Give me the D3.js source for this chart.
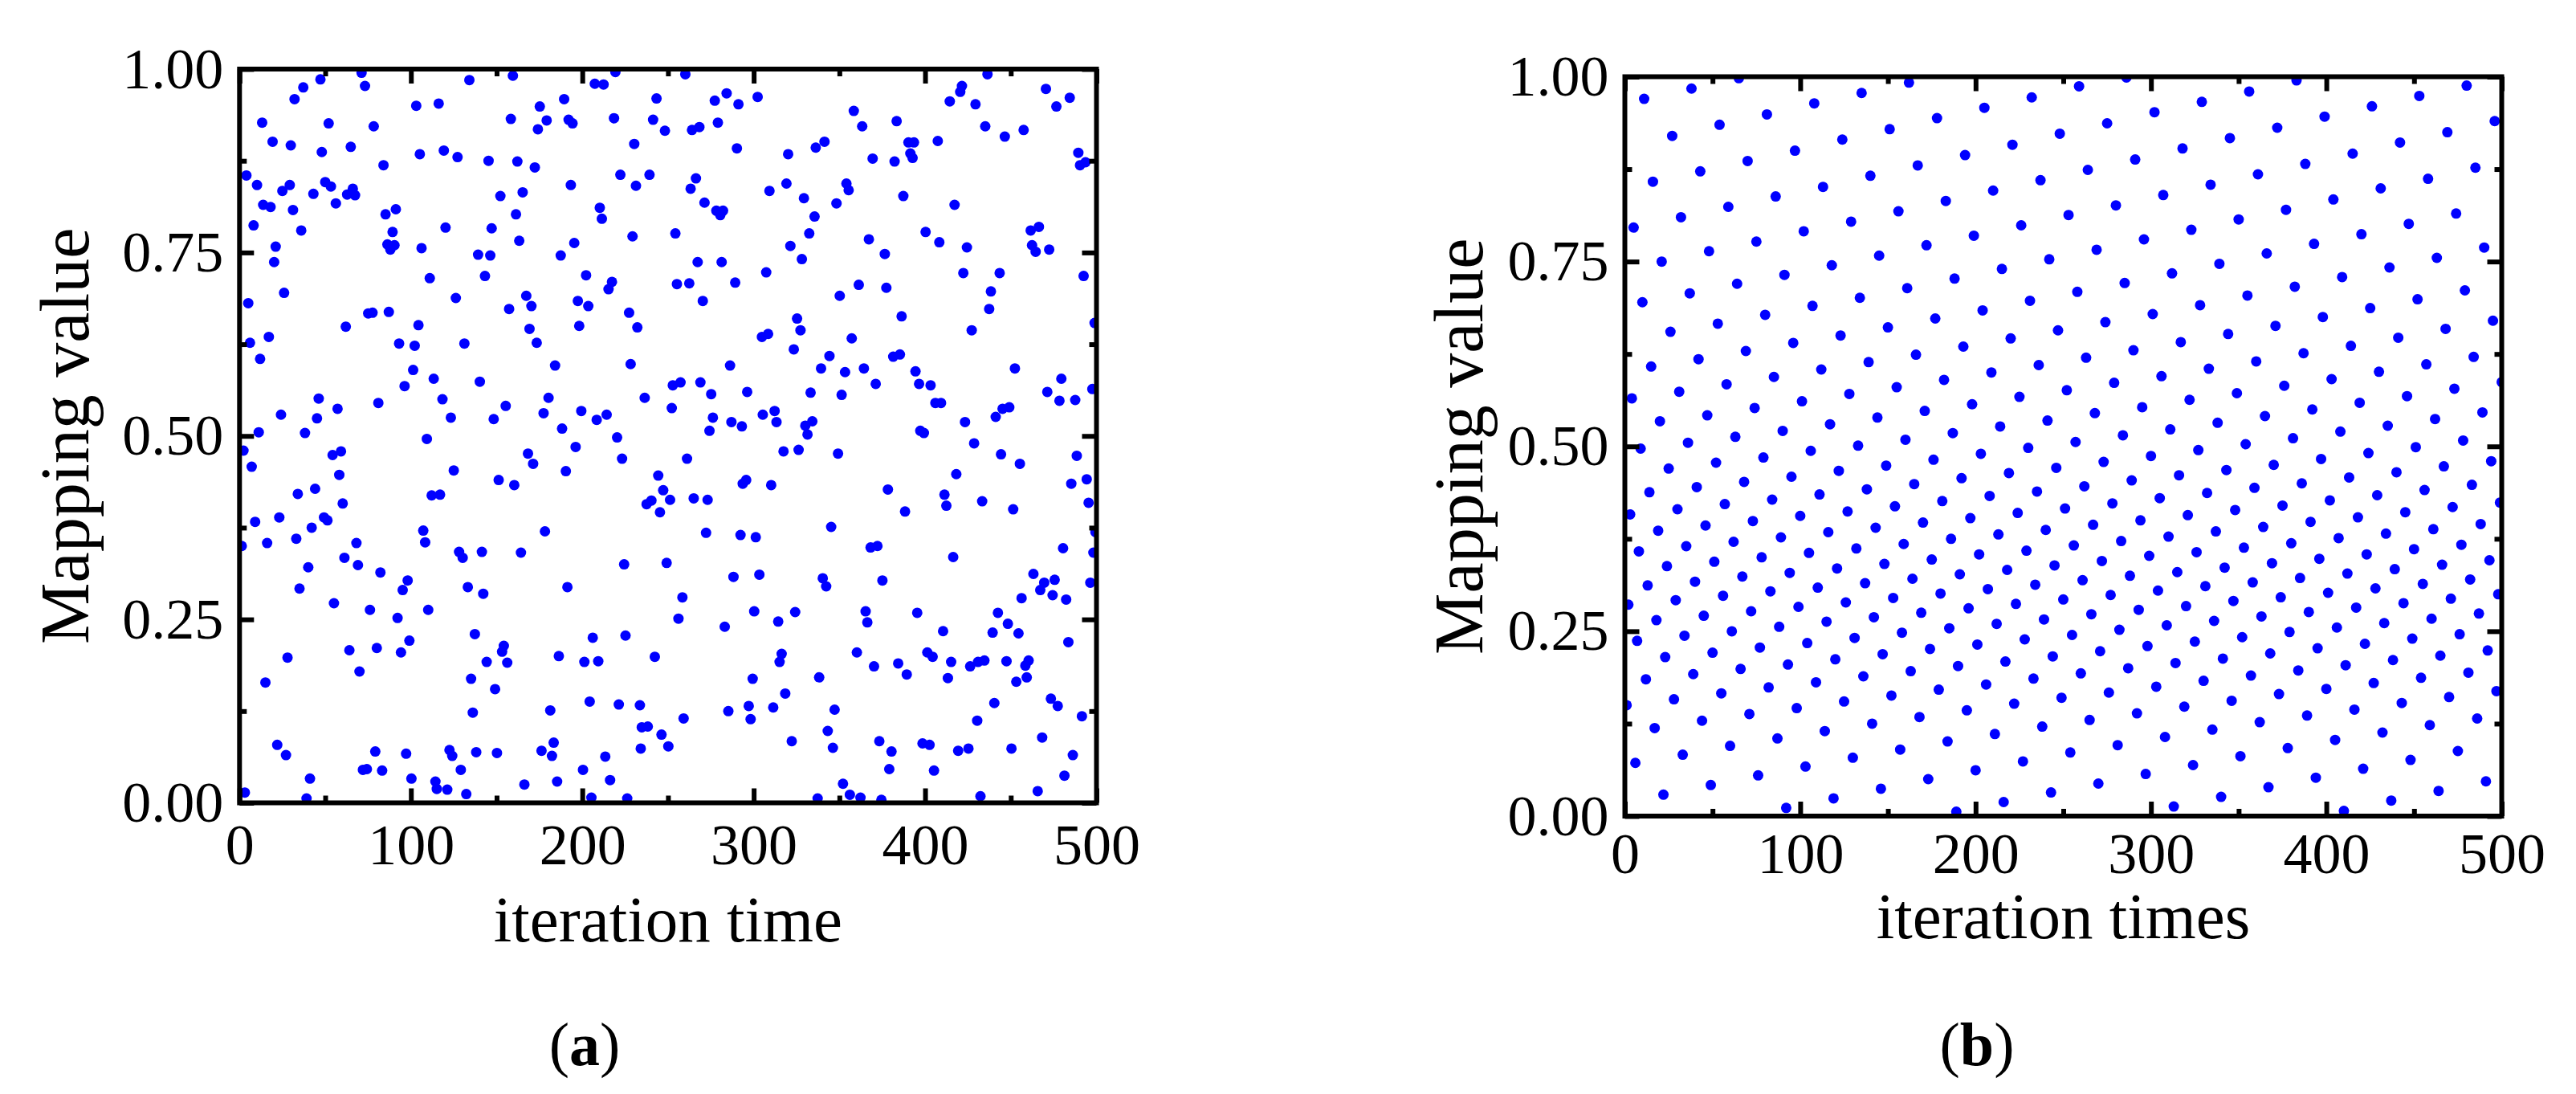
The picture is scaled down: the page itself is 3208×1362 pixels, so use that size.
<!DOCTYPE html>
<html><head><meta charset="utf-8">
<script src="https://cdn.jsdelivr.net/npm/d3@7"></script>
<style>html,body{margin:0;padding:0;background:#fff;} svg{display:block}</style>
</head><body>
<svg id="chart" width="3208" height="1362"></svg>
<script>
// ---------- data ----------
const xMajorTicks = [0, 100, 200, 300, 400, 500];
const xMinorTicks = [50, 150, 250, 350, 450];
const xTickLabels = ["0", "100", "200", "300", "400", "500"];
const yMajorTicks = [0, 0.25, 0.5, 0.75, 1];
const yMinorTicks = [0.125, 0.375, 0.625, 0.875];
const yTickLabels = ["0.00", "0.25", "0.50", "0.75", "1.00"];
const yTitle = "Mapping value";
const xTitleA = "iteration time";
const xTitleB = "iteration times";

// panel (a): [iteration, mapping value]
const pointsA = [
[71.2,0.995],[47.2,0.986],[37.2,0.975],[73.2,0.977],[32.1,0.959],[134.1,0.985],[159.5,0.991],[219.3,0.996],[207.3,0.980],[212.4,0.979],[243.3,0.960],[189.4,0.959],[175.2,0.949],[103.1,0.950],[116.2,0.953],[13.2,0.927],[52.0,0.926],[78.3,0.922],[158.3,0.932],[179.2,0.930],[192.0,0.931],[194.3,0.926],[174.1,0.918],[218.5,0.933],[241.3,0.931],[19.3,0.901],[29.9,0.896],[48.0,0.887],[64.9,0.894],[105.2,0.884],[119.2,0.889],[127.2,0.880],[145.3,0.875],[162.1,0.874],[172.3,0.866],[230.3,0.898],[84.0,0.869],[4.0,0.855],[10.2,0.842],[25.0,0.834],[29.3,0.842],[43.1,0.830],[50.0,0.846],[53.3,0.840],[62.8,0.829],[66.1,0.837],[67.4,0.828],[56.2,0.817],[13.8,0.815],[18.1,0.812],[31.2,0.808],[85.2,0.802],[91.2,0.809],[152.2,0.827],[165.2,0.832],[161.3,0.802],[193.3,0.842],[222.2,0.856],[231.3,0.841],[239.2,0.856],[210.2,0.811],[211.4,0.796],[8.2,0.787],[36.0,0.780],[89.3,0.778],[120.2,0.784],[147.1,0.783],[163.2,0.766],[195.3,0.763],[229.3,0.772],[21.1,0.758],[86.3,0.761],[90.4,0.760],[88.0,0.754],[106.2,0.756],[20.2,0.737],[139.2,0.747],[146.3,0.746],[187.4,0.746],[111.0,0.715],[143.2,0.718],[202.2,0.719],[217.3,0.710],[215.3,0.700],[26.0,0.695],[5.1,0.681],[126.2,0.688],[167.3,0.691],[170.3,0.677],[197.4,0.684],[203.5,0.677],[157.3,0.673],[227.3,0.668],[75.1,0.667],[77.6,0.668],[87.1,0.669],[62.0,0.649],[104.4,0.651],[169.2,0.646],[198.2,0.650],[232.1,0.648],[17.1,0.635],[6.1,0.627],[93.1,0.626],[102.2,0.623],[131.2,0.626],[173.4,0.627],[12.0,0.605],[101.3,0.590],[184.1,0.596],[228.2,0.598],[113.3,0.578],[96.3,0.568],[140.2,0.574],[46.2,0.551],[81.0,0.545],[118.4,0.550],[180.3,0.552],[155.3,0.541],[236.4,0.552],[24.2,0.529],[45.2,0.524],[57.2,0.537],[123.3,0.525],[148.3,0.523],[177.4,0.531],[199.4,0.534],[208.4,0.522],[214.2,0.529],[11.2,0.505],[38.2,0.504],[109.3,0.496],[188.2,0.510],[220.3,0.498],
[2.3,0.480],[59.2,0.479],[54.3,0.474],[7.1,0.458],[58.2,0.447],[34.0,0.421],[44.1,0.428],[60.2,0.408],[9.1,0.383],[23.2,0.389],[42.1,0.375],[49.3,0.389],[51.3,0.385],[1.3,0.350],[16.1,0.354],[33.1,0.360],[68.2,0.354],[61.2,0.334],[69.1,0.324],[40.1,0.321],[82.2,0.314],[98.1,0.303],[95.2,0.290],[35.0,0.292],[55.1,0.272],[76.1,0.263],[92.2,0.252],[110.1,0.263],[112.1,0.419],[117.0,0.420],[125.0,0.453],[107.2,0.371],[108.3,0.355],[128.1,0.342],[130.2,0.334],[141.4,0.342],[133.2,0.294],[142.2,0.285],[151.2,0.440],[160.3,0.433],[168.3,0.476],[171.3,0.462],[190.4,0.452],[196.1,0.485],[223.2,0.469],[178.2,0.370],[164.2,0.341],[191.3,0.294],[224.4,0.325],[244.3,0.446],[247.2,0.426],[237.5,0.407],[240.3,0.412],[245.3,0.396],[137.3,0.230],[154.2,0.214],[153.2,0.206],[156.2,0.191],[144.2,0.192],[135.1,0.169],[149.1,0.155],[136.1,0.123],[186.3,0.200],[201.2,0.192],[209.3,0.193],[206.1,0.225],[225.2,0.228],[242.3,0.199],[204.3,0.138],[221.3,0.134],[233.6,0.133],[181.3,0.126],[234.7,0.103],[238.2,0.104],[246.2,0.093],[234.1,0.074],[64.1,0.208],[80.1,0.211],[94.2,0.205],[99.1,0.221],[70.0,0.179],[28.0,0.198],[15.1,0.164],[22.0,0.079],[27.1,0.065],[41.1,0.033],[79.2,0.070],[72.0,0.045],[74.3,0.046],[83.2,0.044],[97.2,0.067],[100.3,0.033],[114.3,0.029],[115.1,0.019],[121.2,0.018],[122.5,0.072],[124.1,0.064],[129.1,0.045],[132.3,0.012],[138.1,0.069],[150.2,0.068],[166.2,0.025],[176.2,0.071],[183.3,0.082],[182.3,0.064],[185.3,0.029],[200.4,0.045],[213.4,0.063],[216.2,0.031],[205.3,0.007],[226.2,0.006],[3.1,0.014],[39.1,0.006],
[260.1,0.993],[277.3,0.957],[284.2,0.967],[291.1,0.952],[302.3,0.962],[248.2,0.916],[264.0,0.917],[268.3,0.921],[279.1,0.927],[290.2,0.892],[320.1,0.884],[336.2,0.893],[341.3,0.901],[358.4,0.943],[363.3,0.922],[383.4,0.929],[369.4,0.878],[382.2,0.874],[390.3,0.900],[393.5,0.900],[391.4,0.885],[392.7,0.879],[407.4,0.902],[421.5,0.977],[420.5,0.969],[414.4,0.956],[429.4,0.952],[436.4,0.993],[435.1,0.922],[446.5,0.908],[457.5,0.917],[470.5,0.973],[476.6,0.949],[484.4,0.961],[489.4,0.886],[490.4,0.869],[493.6,0.873],[266.3,0.851],[263.2,0.837],[271.3,0.818],[278.2,0.807],[282.1,0.807],[280.5,0.801],[309.2,0.834],[319.1,0.844],[329.3,0.824],[335.5,0.799],[348.3,0.817],[354.1,0.844],[355.4,0.835],[387.3,0.827],[417.2,0.815],[254.3,0.776],[332.4,0.776],[321.4,0.759],[328.1,0.741],[367.2,0.768],[376.5,0.748],[400.3,0.778],[408.3,0.764],[424.4,0.757],[461.6,0.780],[466.4,0.785],[462.4,0.760],[464.5,0.751],[472.4,0.754],[267.3,0.737],[281.3,0.737],[307.3,0.723],[255.2,0.707],[262.4,0.708],[289.2,0.709],[270.3,0.684],[350.2,0.691],[361.3,0.706],[377.4,0.702],[422.3,0.722],[443.5,0.722],[438.4,0.697],[437.4,0.673],[492.5,0.718],[325.3,0.660],[327.3,0.644],[304.8,0.635],[308.4,0.639],[357.2,0.633],[386.3,0.663],[427.2,0.644],[498.9,0.654],[323.4,0.618],[344.2,0.609],[339.3,0.592],[353.3,0.587],[364.3,0.592],[381.4,0.608],[385.3,0.611],[394.4,0.588],[286.2,0.596],[252.8,0.569],[257.3,0.573],[268.9,0.573],[275.2,0.557],[296.2,0.560],[371.2,0.571],[396.5,0.571],[403.2,0.569],[452.4,0.592],[479.5,0.578],[471.3,0.560],[497.6,0.564],[333.2,0.559],[351.3,0.556],[252.2,0.538],[276.2,0.525],[287.0,0.519],[293.1,0.513],[274.2,0.507],[305.3,0.529],[312.2,0.534],[313.3,0.519],[330.1,0.514],[334.2,0.520],[331.4,0.502],[406.0,0.545],[409.3,0.545],[423.3,0.519],[441.2,0.526],[445.2,0.537],[449.1,0.539],[478.4,0.548],[487.6,0.549],[397.2,0.507],[399.3,0.504],
[428.6,0.490],[317.4,0.479],[326.2,0.481],[349.2,0.476],[261.1,0.469],[444.3,0.475],[455.3,0.462],[488.5,0.473],[494.3,0.441],[485.3,0.435],[418.2,0.448],[378.3,0.427],[411.3,0.420],[412.4,0.405],[433.3,0.411],[451.4,0.400],[495.4,0.409],[388.3,0.397],[295.6,0.440],[293.6,0.435],[310.2,0.433],[251.2,0.413],[265.0,0.415],[273.1,0.413],[272.2,0.368],[292.3,0.365],[301.2,0.362],[345.2,0.376],[368.2,0.348],[372.2,0.350],[416.4,0.335],[480.5,0.347],[499.4,0.369],[498.2,0.341],[249.2,0.327],[288.2,0.308],[303.3,0.311],[340.3,0.306],[342.3,0.295],[375.1,0.303],[463.2,0.312],[469.5,0.300],[467.2,0.290],[475.6,0.304],[474.4,0.283],[482.3,0.277],[456.3,0.279],[496.4,0.300],[258.4,0.280],[256.1,0.251],[283.1,0.240],[300.3,0.261],[314.3,0.247],[324.2,0.260],[365.3,0.261],[366.3,0.246],[395.4,0.259],[442.5,0.259],[448.3,0.244],[439.4,0.232],[454.5,0.231],[410.5,0.234],[483.6,0.219],[316.3,0.203],[315.1,0.192],[360.2,0.205],[370.2,0.186],[384.3,0.190],[389.3,0.175],[401.3,0.205],[404.4,0.199],[415.2,0.192],[413.3,0.170],[426.3,0.186],[430.9,0.192],[434.6,0.194],[447.5,0.193],[458.5,0.187],[460.4,0.194],[459.3,0.171],[453.2,0.165],[299.4,0.169],[338.2,0.171],[318.4,0.149],[473.4,0.142],[477.4,0.132],[440.4,0.136],[430.4,0.112],[491.5,0.118],[285.2,0.125],[297.1,0.132],[298.2,0.114],[311.4,0.130],[347.2,0.127],[259.1,0.115],[250.2,0.077],[343.2,0.098],[322.2,0.084],[346.2,0.075],[373.3,0.084],[380.4,0.070],[398.5,0.081],[402.6,0.079],[419.3,0.071],[425.3,0.074],[450.4,0.074],[468.3,0.089],[486.2,0.065],[481.3,0.037],[379.1,0.046],[405.2,0.044],[352.1,0.026],[356.1,0.011],[362.3,0.007],[337.3,0.006],[374.5,0.004],[432.3,0.009],[465.7,0.016]
];

// panel (b): [iteration, mapping value]
const pointsB = [
[65,0.998],[162,0.992],[38,0.984],[135,0.978],[232,0.972],[11,0.970],[108,0.964],[205,0.958],[81,0.949],[178,0.944],[54,0.935],[151,0.929],[248,0.923],[27,0.920],[124,0.915],[221,0.908],[97,0.900],[194,0.894],[70,0.886],[167,0.880],[43,0.872],[140,0.866],[237,0.860],[16,0.858],[113,0.851],[210,0.846],[86,0.838],[183,0.832],[59,0.824],[156,0.818],[32,0.810],[129,0.804],[226,0.799],[5,0.796],[102,0.791],[199,0.785],[75,0.777],[172,0.772],[48,0.764],[145,0.758],[242,0.753],[21,0.750],[118,0.745],[215,0.740],[91,0.732],[188,0.727],[64,0.720],[161,0.714],[37,0.707],[134,0.701],[231,0.697],[10,0.695],[107,0.690],[204,0.684],[80,0.678],[177,0.673],[53,0.666],[150,0.661],[247,0.657],[26,0.655],[123,0.650],[220,0.646],[96,0.640],[193,0.635],[69,0.629],[166,0.624],[42,0.618],[139,0.614],[236,0.610],[15,0.608],[112,0.604],[209,0.600],[85,0.594],[182,0.590],[58,0.584],[155,0.580],[31,0.574],[128,0.571],[225,0.567],[4,0.565],[101,0.561],[198,0.557],[74,0.552],[171,0.548],[47,0.542],[144,0.539],[241,0.535],[20,0.534],[117,0.530],[214,0.527],[90,0.521],[187,0.518],[63,0.513],[160,0.509],[36,0.505],[133,0.501],
[286,0.999],[383,0.995],[480,0.988],[259,0.987],[356,0.980],[453,0.974],[329,0.966],[426,0.960],[302,0.952],[399,0.946],[496,0.940],[275,0.937],[372,0.931],[469,0.925],[345,0.917],[442,0.911],[318,0.903],[415,0.896],[291,0.888],[388,0.882],[485,0.877],[264,0.874],[361,0.868],[458,0.862],[334,0.854],[431,0.849],[307,0.840],[404,0.834],[280,0.826],[377,0.820],[474,0.815],[253,0.813],[350,0.807],[447,0.801],[323,0.793],[420,0.787],[296,0.780],[393,0.774],[490,0.769],[269,0.766],[366,0.761],[463,0.755],[339,0.747],[436,0.742],[312,0.734],[409,0.729],[285,0.721],[382,0.716],[479,0.711],[258,0.709],[355,0.704],[452,0.699],[328,0.691],[425,0.687],[301,0.679],[398,0.675],[495,0.670],[274,0.668],[371,0.663],[468,0.659],[344,0.652],[441,0.647],[317,0.641],[414,0.636],[290,0.630],[387,0.626],[484,0.621],[263,0.620],[360,0.615],[457,0.611],[333,0.605],[430,0.601],[306,0.595],[403,0.591],[500,0.587],[279,0.586],[376,0.582],[473,0.578],[252,0.576],[349,0.572],[446,0.568],[322,0.563],[419,0.559],[295,0.553],[392,0.550],[489,0.546],[268,0.545],[365,0.541],[462,0.537],[338,0.532],[435,0.528],[311,0.523],[408,0.520],[284,0.515],[381,0.511],[478,0.508],[257,0.506],[354,0.503],
[9,0.497],[230,0.498],[106,0.494],[203,0.490],[79,0.485],[176,0.482],[52,0.478],[149,0.474],[246,0.471],[25,0.470],[122,0.467],[219,0.464],[95,0.459],[192,0.457],[68,0.452],[165,0.449],[41,0.445],[138,0.442],[235,0.439],[14,0.438],[111,0.435],[208,0.433],[84,0.428],[181,0.426],[57,0.422],[154,0.419],[30,0.415],[127,0.412],[224,0.410],[3,0.408],[100,0.406],[197,0.403],[73,0.399],[170,0.397],[46,0.393],[143,0.390],[240,0.387],[19,0.386],[116,0.384],[213,0.381],[89,0.377],[186,0.375],[62,0.371],[159,0.368],[35,0.365],[132,0.362],[229,0.359],[8,0.358],[105,0.356],[202,0.354],[78,0.350],[175,0.347],[51,0.344],[148,0.341],[245,0.339],[24,0.338],[121,0.335],[218,0.333],[94,0.329],[191,0.327],[67,0.324],[164,0.321],[40,0.317],[137,0.315],[234,0.313],[13,0.312],[110,0.309],[207,0.307],[83,0.304],[180,0.301],[56,0.298],[153,0.295],[29,0.292],[126,0.289],[223,0.287],[2,0.286],[99,0.283],[196,0.281],[72,0.277],[169,0.275],[45,0.271],[142,0.269],[239,0.266],[18,0.265],[115,0.263],[212,0.260],[88,0.256],[185,0.254],[61,0.250],[158,0.248],[34,0.244],[131,0.241],[228,0.239],[7,0.237],[104,0.234],[201,0.232],[77,0.228],[174,0.226],[50,0.221],[147,0.219],[244,0.216],[23,0.215],[120,0.212],[217,0.209],[93,0.205],[190,0.203],[66,0.199],[163,0.196],[39,0.192],[136,0.189],[233,0.186],[12,0.185],[109,0.181],[206,0.178],[82,0.174],[179,0.171],[55,0.166],[152,0.163],[28,0.158],[125,0.155],[222,0.152],[1,0.150],[98,0.146],[195,0.143],[71,0.138],[168,0.134],[44,0.129],[141,0.125],[238,0.121],[17,0.119],[114,0.115],[211,0.111],[87,0.105],[184,0.101],[60,0.095],[157,0.090],[33,0.083],[130,0.079],[227,0.074],[6,0.072],[103,0.067],[200,0.062],[76,0.055],[173,0.050],[49,0.042],[146,0.037],[243,0.032],[22,0.029],[119,0.024],[216,0.019],[92,0.011],[189,0.006],
[451,0.499],[327,0.495],[424,0.491],[300,0.487],[397,0.483],[494,0.480],[273,0.479],[370,0.475],[467,0.473],[343,0.468],[440,0.465],[316,0.461],[413,0.458],[289,0.454],[386,0.450],[483,0.448],[262,0.446],[359,0.444],[456,0.441],[332,0.437],[429,0.434],[305,0.430],[402,0.427],[499,0.424],[278,0.423],[375,0.420],[472,0.418],[251,0.416],[348,0.414],[445,0.411],[321,0.407],[418,0.404],[294,0.400],[391,0.398],[488,0.395],[267,0.394],[364,0.391],[461,0.388],[337,0.385],[434,0.382],[310,0.378],[407,0.376],[283,0.372],[380,0.369],[477,0.367],[256,0.366],[353,0.363],[450,0.361],[326,0.357],[423,0.354],[299,0.352],[396,0.348],[493,0.346],[272,0.345],[369,0.342],[466,0.340],[342,0.336],[439,0.334],[315,0.330],[412,0.328],[288,0.325],[385,0.322],[482,0.320],[261,0.319],[358,0.316],[455,0.314],[331,0.311],[428,0.308],[304,0.305],[401,0.302],[498,0.300],[277,0.299],[374,0.296],[471,0.294],[250,0.293],[347,0.291],[444,0.288],[320,0.284],[417,0.282],[293,0.279],[390,0.276],[487,0.274],[266,0.273],[363,0.270],[460,0.267],[336,0.264],[433,0.261],[309,0.258],[406,0.255],[282,0.252],[379,0.249],[476,0.246],[255,0.245],[352,0.242],[449,0.240],[325,0.236],[422,0.233],[298,0.230],[395,0.227],[492,0.224],[271,0.223],[368,0.220],[465,0.217],[341,0.213],[438,0.211],[314,0.207],[411,0.204],[287,0.200],[384,0.197],[481,0.194],[260,0.193],[357,0.190],[454,0.187],[330,0.183],[427,0.180],[303,0.175],[400,0.172],[497,0.169],[276,0.167],[373,0.165],[470,0.161],[249,0.160],[346,0.156],[443,0.153],[319,0.148],[416,0.144],[292,0.139],[389,0.136],[486,0.132],[265,0.130],[362,0.127],[459,0.123],[335,0.117],[432,0.113],[308,0.107],[405,0.103],[281,0.096],[378,0.092],[475,0.088],[254,0.086],[351,0.081],[448,0.076],[324,0.069],[421,0.064],[297,0.057],[394,0.052],[491,0.047],[270,0.044],[367,0.039],[464,0.034],[340,0.026],[437,0.021],[313,0.013],[410,0.007]
];

// ---------- drawing ----------
const FONT = "'Liberation Serif','Times New Roman',serif";
const svg = d3.select('#chart');
svg.append('rect').attr('width', 3208).attr('height', 1362).attr('fill', '#fff');

function panel(id, pts, box, xTitle, tag) {
  const x = d3.scaleLinear().domain([0, 500]).range([box.x0, box.x1]);
  const y = d3.scaleLinear().domain([0, 1]).range([box.y0, box.y1]);
  const g = svg.append('g');

  g.append('clipPath').attr('id', 'clip' + id)
    .append('rect').attr('x', box.x0).attr('y', box.y1)
    .attr('width', box.x1 - box.x0).attr('height', box.y0 - box.y1);

  g.append('g').attr('clip-path', `url(#clip${id})`)
    .selectAll('circle').data(pts).join('circle')
    .attr('cx', d => x(d[0])).attr('cy', d => y(d[1]))
    .attr('r', 6.5).attr('fill', '#0000ff');

  const MAJ = 18, MIN = 9;
  function put(axis, tx, ty) {
    const a = g.append('g').attr('transform', `translate(${tx},${ty})`).call(axis);
    a.select('.domain').remove();
    a.selectAll('.tick line').attr('stroke', '#000').attr('stroke-width', 6);
    a.attr('font-family', FONT).attr('font-size', 72);
    a.selectAll('.tick text').attr('fill', '#000');
    return a;
  }
  // bottom
  put(d3.axisBottom(x).tickValues(xMajorTicks).tickSize(-MAJ).tickPadding(box.xPad)
      .tickFormat((d, i) => xTickLabels[i]), 0, box.y0);
  put(d3.axisBottom(x).tickValues(xMinorTicks).tickSize(-MIN).tickFormat(''), 0, box.y0);
  // top
  put(d3.axisTop(x).tickValues(xMajorTicks).tickSize(-MAJ).tickFormat(''), 0, box.y1);
  put(d3.axisTop(x).tickValues(xMinorTicks).tickSize(-MIN).tickFormat(''), 0, box.y1);
  // left
  put(d3.axisLeft(y).tickValues(yMajorTicks).tickSize(-MAJ).tickPadding(20)
      .tickFormat((d, i) => yTickLabels[i]), box.x0, 0);
  put(d3.axisLeft(y).tickValues(yMinorTicks).tickSize(-MIN).tickFormat(''), box.x0, 0);
  // right
  put(d3.axisRight(y).tickValues(yMajorTicks).tickSize(-MAJ).tickFormat(''), box.x1, 0);
  put(d3.axisRight(y).tickValues(yMinorTicks).tickSize(-MIN).tickFormat(''), box.x1, 0);

  // frame
  g.append('rect').attr('x', box.x0).attr('y', box.y1)
    .attr('width', box.x1 - box.x0).attr('height', box.y0 - box.y1)
    .attr('fill', 'none').attr('stroke', '#000').attr('stroke-width', 6);

  // titles
  g.append('text').attr('x', (box.x0 + box.x1) / 2).attr('y', box.xTitleY)
    .attr('text-anchor', 'middle').attr('font-family', FONT).attr('font-size', 81)
    .attr('fill', '#000').text(xTitle);
  g.append('text')
    .attr('transform', `translate(${box.yTitleX},${(box.y0 + box.y1) / 2}) rotate(-90)`)
    .attr('text-anchor', 'middle').attr('font-family', FONT).attr('font-size', 86)
    .attr('fill', '#000').text(yTitle);
  const t = g.append('text').attr('x', box.tagX).attr('y', box.tagY)
    .attr('text-anchor', 'middle').attr('font-family', FONT).attr('font-size', 76).attr('fill', '#000');
  t.append('tspan').text('(');
  t.append('tspan').attr('font-weight', 'bold').text(tag);
  t.append('tspan').text(')');
}

panel('A', pointsA, {x0: 298.3, x1: 1365.5, y0: 999.5, y1: 86, xPad: 25,
  xTitleY: 1172, yTitleX: 110, tagX: 728, tagY: 1326}, xTitleA, 'a');
panel('B', pointsB, {x0: 2023.5, x1: 3115.5, y0: 1016, y1: 95.5, xPad: 20,
  xTitleY: 1168, yTitleX: 1846, tagX: 2462, tagY: 1326}, xTitleB, 'b');
</script>
</body></html>
